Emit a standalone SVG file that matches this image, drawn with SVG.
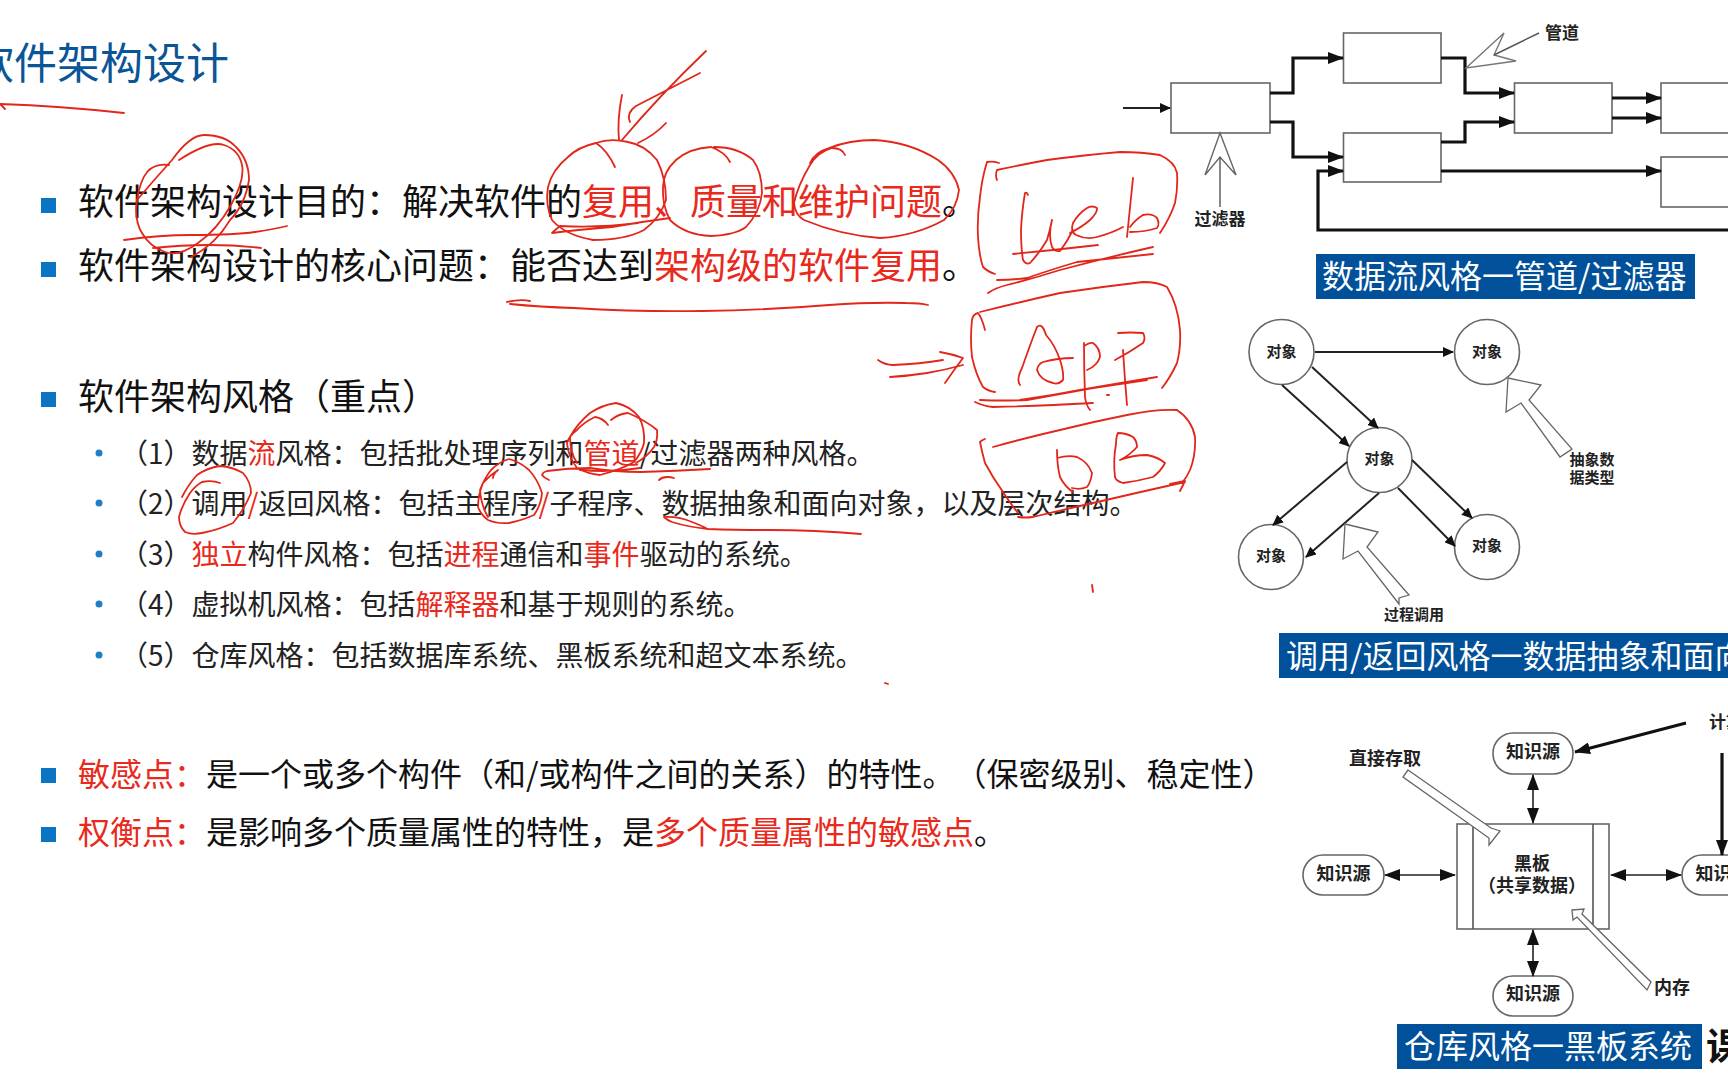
<svg xmlns="http://www.w3.org/2000/svg" width="1728" height="1080" viewBox="0 0 1728 1080">
<defs>
<marker id="hd" viewBox="0 0 16 12" refX="15" refY="6" markerWidth="16" markerHeight="12" markerUnits="userSpaceOnUse" orient="auto-start-reverse"><path d="M0 0L16 6L0 12Z" fill="#111"/></marker>
<marker id="hs" viewBox="0 0 11 10" refX="10" refY="5" markerWidth="11" markerHeight="10" markerUnits="userSpaceOnUse" orient="auto-start-reverse"><path d="M0 0L11 5L0 10Z" fill="#111"/></marker>
</defs>
<style>
text{font-family:"Noto Sans CJK SC","Noto Sans",sans-serif;text-spacing-trim:space-all}
.t1{font-size:36px;fill:#111}
.t2{font-size:28px;fill:#222}
.t3{font-size:32px;fill:#111}
.r{fill:#e8291c}
.cap{font-size:32px;fill:#fff}
.capbg{fill:#00509a}
.sq{fill:#0b75c4}
.dot{fill:#1f7fc4}
.box{fill:#fff;stroke:#666;stroke-width:1.6}
.th{fill:none;stroke:#111;stroke-width:3.2;marker-end:url(#hd)}
.tn{fill:none;stroke:#222;stroke-width:2;marker-end:url(#hs)}
.dbl{fill:none;stroke:#222;stroke-width:1.6;marker-end:url(#hd);marker-start:url(#hd)}
.hol{fill:#fff;stroke:#666;stroke-width:1.3}
.lb{font-size:17px;font-weight:700;fill:#222;text-anchor:middle}
.lb2{font-size:18px;font-weight:700;fill:#222;text-anchor:middle}
.ob{font-size:15px;font-weight:700;fill:#222;text-anchor:middle}
.ink{fill:none;stroke:#e2261a;stroke-width:1.8;stroke-linecap:round;stroke-linejoin:round}
</style>
<rect width="1728" height="1080" fill="#fff"/>
<g id="title"><text x="-29" y="79" font-size="43" fill="#0a5596">软件架构设计</text></g>
<g id="text-main">
<rect class="sq" x="41" y="198" width="15" height="15"/>
<text class="t1" x="78" y="215">软件架构设计目的：解决软件的<tspan class="r">复用、质量和维护问题</tspan>。</text>
<rect class="sq" x="41" y="262" width="15" height="15"/>
<text class="t1" x="78" y="279">软件架构设计的核心问题：能否达到<tspan class="r">架构级的软件复用</tspan>。</text>
<rect class="sq" x="41" y="392" width="15" height="15"/>
<text class="t1" x="78" y="410">软件架构风格（重点）</text>
<circle class="dot" cx="99" cy="453" r="3.5"/>
<text class="t2" x="120" y="464">（1）数据<tspan class="r">流</tspan>风格：包括批处理序列和<tspan class="r">管道</tspan>/过滤器两种风格。</text>
<circle class="dot" cx="99" cy="503" r="3.5"/>
<text class="t2" x="120" y="514">（2）调用<tspan class="r">/</tspan>返回风格：包括主程序<tspan class="r">/</tspan>子程序、数据抽象和面向对象，以及层次结构。</text>
<circle class="dot" cx="99" cy="554" r="3.5"/>
<text class="t2" x="120" y="565">（3）<tspan class="r">独立</tspan>构件风格：包括<tspan class="r">进程</tspan>通信和<tspan class="r">事件</tspan>驱动的系统。</text>
<circle class="dot" cx="99" cy="604" r="3.5"/>
<text class="t2" x="120" y="615">（4）虚拟机风格：包括<tspan class="r">解释器</tspan>和基于规则的系统。</text>
<circle class="dot" cx="99" cy="655" r="3.5"/>
<text class="t2" x="120" y="666">（5）仓库风格：包括数据库系统、黑板系统和超文本系统。</text>
<rect class="sq" x="41" y="768" width="15" height="15"/>
<text class="t3" x="78" y="786"><tspan class="r">敏感点：</tspan>是一个或多个构件（和/或构件之间的关系）的特性。（保密级别、稳定性）</text>
<rect class="sq" x="41" y="827" width="15" height="15"/>
<text class="t3" x="78" y="844"><tspan class="r">权衡点：</tspan>是影响多个质量属性的特性，是<tspan class="r">多个质量属性的敏感点</tspan>。</text>
</g>

<g id="pipe-nodes">
<g id="f1"><rect class="box" x="1171" y="83" width="99" height="50"/></g>
<g id="f2"><rect class="box" x="1343.5" y="33" width="97.5" height="50"/></g>
<g id="f3"><rect class="box" x="1343.5" y="133" width="97.5" height="49"/></g>
<g id="f4"><rect class="box" x="1514.5" y="83" width="97.5" height="50"/></g>
<g id="f5"><rect class="box" x="1661" y="83" width="90" height="50"/></g>
<g id="f6"><rect class="box" x="1661" y="157" width="90" height="50"/></g>
</g>
<g id="pipe-connectors">
<path class="tn" d="M1123 108H1170"/>
<path class="th" d="M1270 93H1293V58H1343"/>
<path class="th" d="M1270 122H1293V157H1343"/>
<path class="th" d="M1441 58H1465V93H1514"/>
<path class="th" d="M1441 142H1465V122H1514"/>
<path class="th" d="M1612 98H1661"/>
<path class="th" d="M1612 118H1661"/>
<path class="th" d="M1441 171H1661"/>
<path class="th" d="M1730 230H1318V171H1343"/>
</g>
<g id="pipe-callouts">
<path fill="none" stroke="#666" stroke-width="1.4" d="M1205 175L1220 133L1236 175L1220 157Z"/>
<path fill="none" stroke="#555" stroke-width="1.4" d="M1220 157V207"/>
<text class="lb" x="1220" y="225">过滤器</text>
<path fill="#fff" stroke="#777" stroke-width="1.4" d="M1466 68L1504 33L1494 55L1516 61Z"/>
<path fill="none" stroke="#555" stroke-width="1.4" d="M1494 55L1539 33"/>
<text class="lb" x="1562" y="39">管道</text>
</g>
<g id="cap1"><rect class="capbg" x="1316" y="254" width="379" height="45"/><text class="cap" x="1322" y="288">数据流风格一管道/过滤器</text></g>

<g id="obj-nodes">
<g id="o1"><circle class="box" cx="1281.5" cy="352" r="32.5"/><text class="ob" x="1281.5" y="357">对象</text></g>
<g id="o2"><circle class="box" cx="1487" cy="352" r="32.5"/><text class="ob" x="1487" y="357">对象</text></g>
<g id="o3"><circle class="box" cx="1379.5" cy="460" r="32.5"/><text class="ob" x="1379.5" y="464">对象</text></g>
<g id="o4"><circle class="box" cx="1271" cy="557" r="32.5"/><text class="ob" x="1271" y="561">对象</text></g>
<g id="o5"><circle class="box" cx="1487" cy="547" r="32.5"/><text class="ob" x="1487" y="551">对象</text></g>
</g>
<g id="obj-connectors">
<path class="tn" d="M1315 352H1453"/>
<path class="tn" d="M1312 367L1378 428"/>
<path class="tn" d="M1282 385L1349 446"/>
<path class="tn" d="M1347 462L1273 525"/>
<path class="tn" d="M1379 493L1306 557"/>
<path class="tn" d="M1412 460L1472 518"/>
<path class="tn" d="M1398 488L1455 546"/>
</g>
<g id="obj-callouts">
<path class="hol" d="M1508 378L1541 385L1529 400L1572 449L1560 457L1521 403L1506 412Z"/>
<text class="ob" x="1592" y="465">抽象数</text><text class="ob" x="1592" y="483">据类型</text>
<path class="hol" d="M1345 524L1378 532L1367 547L1409 595L1399 598L1399 604L1358 551L1343 559Z"/>
<text class="ob" x="1414" y="620">过程调用</text>
</g>
<g id="cap2"><rect class="capbg" x="1279" y="633" width="449" height="45"/><text class="cap" x="1286" y="668">调用/返回风格一数据抽象和面向对象</text></g>

<g id="bb-nodes">
<g id="bb"><rect class="box" x="1457" y="824" width="152" height="105"/><path fill="none" stroke="#555" stroke-width="1.6" d="M1473 824V929M1593 824V929"/><text class="lb2" x="1532" y="870">黑板</text><text class="lb2" x="1532" y="892">（共享数据）</text></g>
<g id="k1"><rect class="box" x="1493" y="733" width="80" height="41" rx="20"/><text class="lb2" x="1533" y="758">知识源</text></g>
<g id="k2"><rect class="box" x="1303" y="855" width="81" height="40" rx="20"/><text class="lb2" x="1343.5" y="880">知识源</text></g>
<g id="k3"><rect class="box" x="1682" y="855" width="81" height="40" rx="20"/><text class="lb2" x="1722.5" y="880">知识源</text></g>
<g id="k4"><rect class="box" x="1493" y="976" width="80" height="40" rx="20"/><text class="lb2" x="1533" y="1000">知识源</text></g>
</g>
<g id="bb-connectors">
<path class="dbl" d="M1533 775V823"/>
<path class="dbl" d="M1533 930V976"/>
<path class="dbl" d="M1385 875H1455"/>
<path class="dbl" d="M1611 875H1681"/>
<path class="th" d="M1686 723L1575 752"/>
<path class="th" d="M1722 753V855"/>
</g>
<g id="bb-callouts">
<text class="lb2" x="1385" y="765">直接存取</text>
<path class="hol" d="M1408 770L1491 828L1500 831L1489 845L1489 838L1403 777Z"/>
<text class="lb2" x="1672" y="994">内存</text>
<path class="hol" d="M1572 910L1584 909L1582 914L1651 982L1647 990L1577 917L1573 920Z"/>
<text class="lb" x="1709" y="728" style="text-anchor:start">计算</text>
</g>
<g id="cap3"><rect class="capbg" x="1397" y="1024" width="305" height="45"/><text class="cap" x="1404" y="1058">仓库风格一黑板系统</text>
<text x="1706" y="1060" font-size="38" font-weight="700" fill="#111">课</text></g>

<g id="ink">
<path class="ink" d="M0 104Q60 106 124 113M0 104L5 109"/>
<path class="ink" d="M179 160Q210 140 224 145Q239 150 242 165Q245 180 231 205Q217 230 198 243Q179 257 165 252Q150 247 142 233Q134 220 137 200Q140 180 148 171Q156 163 169 165"/>
<path class="ink" d="M137 200Q154 180 172 160Q190 135 204 135Q225 135 236 147Q249 160 249 180Q245 205 230 220Q215 245 191 257"/>
<path class="ink" d="M124 240Q160 235 191 235Q235 235 255 232Q275 229 287 226M153 248Q210 242 261 248"/>
<path class="ink" d="M615 167Q607 150 596 143Q578 147 568 157Q552 170 548 187Q545 205 552 220Q565 235 593 240Q625 240 644 230Q660 218 666 200Q666 178 657 160Q645 145 628 142Q610 138 596 143"/>
<path class="ink" d="M670 218Q640 222 612 227Q575 230 552 233Q555 230 560 226Q600 228 638 223"/>
<path class="ink" d="M622 95Q617 120 619 140M622 140Q660 95 706 51M630 122Q626 113 636 106L700 73M638 143Q655 135 666 123"/>
<path class="ink" d="M730 162Q725 152 711 147Q690 148 676 160Q663 172 663 187Q662 205 670 220Q685 235 711 236Q735 235 746 227Q760 212 762 193Q762 172 753 160Q738 147 714 147"/>
<path class="ink" d="M845 155Q842 148 832 148Q818 152 810 165Q798 185 794 203Q795 215 804 220Q840 235 880 238Q915 236 944 220Q957 208 959 190Q955 172 938 160Q910 142 874 140Q850 140 829 148Q815 152 810 163"/>
<path class="ink" d="M507 302Q520 299 530 301M510 304Q540 307 574 308Q640 312 702 311Q770 310 829 305Q870 302 906 303Q920 303 928 305" stroke-width="2"/>
<path class="ink" d="M999 163Q993 161 987 162Q982 178 980 197Q977 218 978 237Q979 255 983 267Q988 272 995 274"/>
<path class="ink" d="M997 180Q995 175 997 170Q1020 165 1047 160Q1085 155 1120 152Q1142 152 1160 155Q1175 162 1177 173Q1178 188 1175 203Q1170 218 1160 233"/>
<path class="ink" d="M1028 195Q1027 192 1025 193Q1022 210 1021 230Q1021 248 1023 260Q1026 265 1030 263Q1040 252 1047 240Q1050 230 1052 220Q1048 235 1052 247Q1055 252 1060 251Q1067 242 1073 230"/>
<path class="ink" d="M1070 233Q1082 227 1090 220Q1098 212 1097 208Q1092 205 1087 208Q1078 214 1073 223Q1070 232 1076 235Q1087 240 1097 237Q1112 233 1123 227"/>
<path class="ink" d="M1133 178Q1130 208 1127 237M1130 227Q1135 220 1143 215Q1152 213 1157 218Q1160 224 1157 228Q1145 232 1130 232"/>
<path class="ink" d="M1013 254Q1055 250 1098 245M988 293Q995 288 1007 285Q1035 278 1060 270Q1105 258 1153 247M997 280Q1012 280 1027 278Q1050 270 1077 262Q1115 258 1153 254"/>
<path class="ink" d="M985 330Q982 318 978 313Q973 314 972 320Q970 338 972 357Q976 375 983 387Q988 391 995 392"/>
<path class="ink" d="M980 312Q1020 302 1060 293Q1100 287 1143 282Q1158 282 1167 287Q1178 305 1180 330Q1181 348 1177 363Q1170 378 1162 388"/>
<path class="ink" d="M1020 385Q1016 380 1022 368Q1030 345 1037 327Q1042 322 1046 335Q1055 345 1060 360Q1064 372 1063 380Q1058 385 1053 383Q1040 380 1037 370Q1038 364 1043 362Q1058 358 1073 358"/>
<path class="ink" d="M1084 343Q1084 370 1085 397Q1086 405 1090 410M1084 346Q1090 342 1093 343Q1100 348 1100 357Q1097 366 1087 370"/>
<path class="ink" d="M1118 333Q1130 332 1143 333Q1146 338 1143 343Q1130 352 1115 360M1123 350Q1124 365 1125 380Q1126 392 1127 405"/>
<path class="ink" d="M1020 400Q1050 396 1080 390Q1120 383 1157 377M980 400Q1003 401 1027 400Q1060 394 1093 388Q1120 384 1147 380M975 402Q983 406 993 407Q1040 406 1093 403"/>
<path class="ink" d="M1107 395h2"/>
<path class="ink" d="M878 360Q885 365 893 365Q920 364 943 360M890 377Q908 376 927 373Q945 370 963 365M940 352Q952 354 963 358Q954 370 945 383"/>
<path class="ink" d="M985 439Q982 440 980 442Q982 452 985 463Q993 478 1003 492Q1010 503 1018 513"/>
<path class="ink" d="M993 447Q1025 438 1060 430Q1092 422 1127 415Q1155 409 1177 410Q1192 420 1195 437Q1196 455 1190 470Q1187 477 1182 483"/>
<path class="ink" d="M1018 517Q1025 518 1033 517Q1062 510 1093 503Q1140 492 1185 482M1170 484L1185 481L1180 491"/>
<path class="ink" d="M1057 450Q1057 465 1060 477Q1065 487 1073 492M1057 458Q1068 455 1077 457Q1088 462 1092 473Q1091 482 1087 487Q1080 490 1072 488"/>
<path class="ink" d="M1116 444Q1116 437 1118 433Q1126 433 1133 437Q1137 441 1137 447Q1130 455 1120 460Q1133 455 1147 455Q1158 457 1165 463Q1161 471 1153 477Q1138 481 1123 483Q1116 481 1115 477Q1113 460 1116 444"/>
<path class="ink" d="M1092 585L1093 592M885 683L888 684"/>
<path class="ink" d="M608 425Q603 418 595 417Q584 422 577 430Q569 436 567 443Q568 456 577 468Q588 474 600 475Q620 470 634 462Q642 452 644 443Q645 428 639 417Q630 406 616 403Q602 405 590 413Q577 424 570 437Q570 452 577 463"/>
<path class="ink" d="M611 420Q618 414 628 413Q645 420 657 430Q658 440 654 447Q648 456 636 463"/>
<path class="ink" d="M549 480Q544 478 542 475Q543 472 547 471Q568 468 590 468Q615 472 641 472Q676 471 710 469M580 470Q610 473 640 468"/>
<path class="ink" d="M659 480Q662 477 667 477Q671 477 674 478"/>
<path class="ink" d="M220 483Q212 480 202 482Q195 486 190 493Q182 505 179 517Q179 526 185 532Q192 535 202 533Q218 530 233 523Q244 510 251 493Q251 482 243 473Q233 467 220 466Q207 468 197 475Q188 485 182 497"/>
<path class="ink" d="M493 478Q493 474 498 470Q490 475 483 483Q478 495 478 507Q481 515 488 520Q497 524 509 523Q523 520 534 515Q541 505 542 493Q538 480 529 470Q520 462 509 459Q499 462 491 470Q484 479 480 490Q481 505 488 517"/>
<path class="ink" d="M664 517Q667 520 672 522Q688 527 708 529Q735 530 769 530Q815 530 861 534M664 517Q678 516 692 522Q700 525 706 528"/>
</g>
</svg>
